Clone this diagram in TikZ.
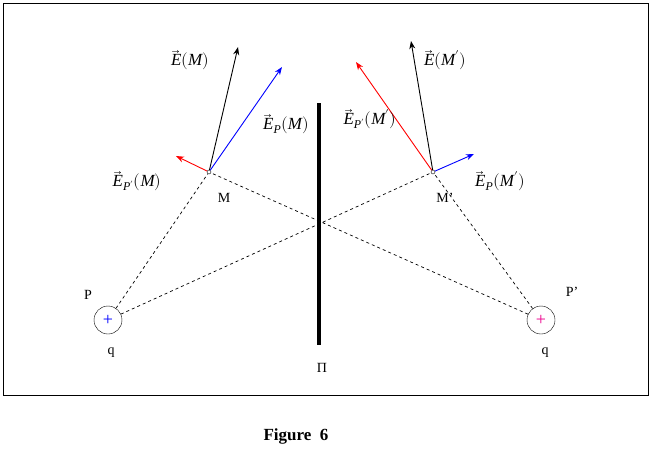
\documentclass[tikz,border=0pt]{standalone}
\usepackage{fontspec}
\usepackage{unicode-math}
\setmainfont{Liberation Serif}
\setmathfont{Latin Modern Math}
\setmathfont[range=it]{Liberation Serif Italic}
\usetikzlibrary{arrows.meta}
\begin{document}
\begin{tikzpicture}[x=1pt,y=-1pt,
 vec/.style={-{Stealth[length=8pt,width=6pt]},line width=0.9pt},
 dline/.style={dashed,line width=0.7pt},
 lbl/.style={font=\fontsize{17}{17}\selectfont},
 sm/.style={font=\fontsize{14}{14}\selectfont}]
\useasboundingbox (0,0) rectangle (657,448);
\draw[line width=0.8pt] (3,3) rectangle (648,395);
\node[font=\bfseries\fontsize{17}{17}\selectfont] (fig) at (296,436) {Figure\ \ 6};
\node[circle,draw,minimum size=28pt,inner sep=0pt] (P) at (108,320) {};
\node[text=blue,font=\fontsize{18}{18}\selectfont] at (P) {+};
\node[circle,draw,minimum size=28pt,inner sep=0pt] (Pp) at (541,320) {};
\node[text=magenta,font=\fontsize{18}{18}\selectfont] at (Pp) {+};
\node[circle,draw,minimum size=4pt,inner sep=0pt] (M) at (209,172) {};
\node[circle,draw,minimum size=4pt,inner sep=0pt] (Mp) at (433,172) {};
\coordinate (wt) at (319,103); \coordinate (wb) at (319,345);
\draw[line width=4pt] (wt) -- (wb);
\draw[dline] (P) -- (M) (P) -- (Mp) (Pp) -- (M) (Pp) -- (Mp);
\coordinate (a1) at (238,47); \coordinate (a2) at (282,67); \coordinate (a3) at (176,156);
\coordinate (b1) at (411,41); \coordinate (b2) at (356,62); \coordinate (b3) at (474,154);
\draw[vec] (M) -- (a1); \draw[vec,blue] (M) -- (a2); \draw[vec,red] (M) -- (a3);
\draw[vec] (Mp) -- (b1); \draw[vec,red] (Mp) -- (b2); \draw[vec,blue] (Mp) -- (b3);
\node[sm] (lP) at (88,295) {P};
\node[sm] (lPp) at (572,292) {P’};
\node[sm] (q1) at (111,353) {q};
\node[sm] (q2) at (545,353) {q};
\node[sm] (pi) at (322,368) {Π};
\node[sm] (lM) at (224,198) {M};
\node[sm] (lMp) at (445,198) {M’};
\node[lbl] (e1) at (190,60) {$\vec{E}(M)$};
\node[lbl] (e2) at (286,124) {$\vec{E}_{P}(M)$};
\node[lbl] (e3) at (137,181) {$\vec{E}_{P'}(M)$};
\node[lbl] (e4) at (445,60) {$\vec{E}(M')$};
\node[lbl] (e5) at (370,119) {$\vec{E}_{P'}(M')$};
\node[lbl] (e6) at (500,181) {$\vec{E}_{P}(M')$};
\end{tikzpicture}
\end{document}
